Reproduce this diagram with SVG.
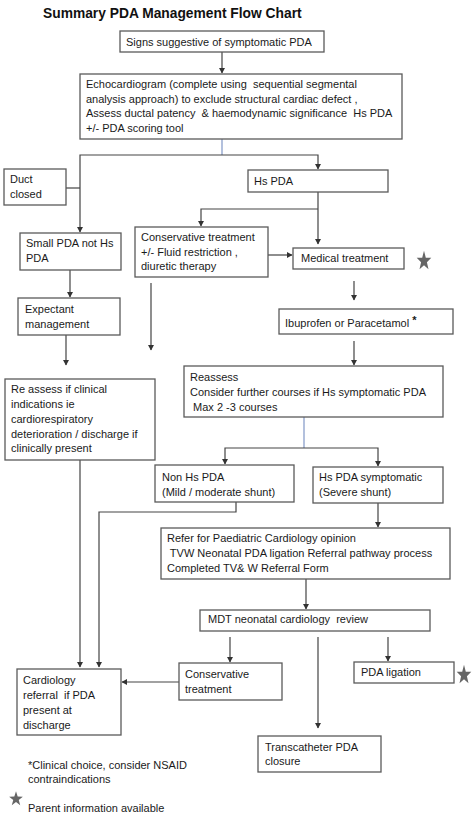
<svg xmlns="http://www.w3.org/2000/svg" width="474" height="818" viewBox="0 0 474 818">
<defs>
<style>
text{font-family:"Liberation Sans",Arial,sans-serif;font-size:11px;fill:#1a1a1a;white-space:pre}
.title{font-weight:bold;font-size:13.8px;fill:#111}
.box{fill:#fff;stroke:#5a5a5a;stroke-width:1.3}
.ln{fill:none;stroke:#444;stroke-width:1.2}
.ar{marker-end:url(#ah)}
.blue{fill:none;stroke:#93a6cf;stroke-width:1.4}
.star{fill:#666}
</style>
<marker id="ah" markerWidth="6" markerHeight="6" refX="5" refY="3" orient="auto" markerUnits="userSpaceOnUse">
<path d="M0,0 L5.5,3 L0,6 Z" fill="#333"/>
</marker>
<path id="star" d="M0,-9 L2.1,-2.9 L8.56,-2.78 L3.42,1.11 L5.29,7.28 L0,3.6 L-5.29,7.28 L-3.42,1.11 L-8.56,-2.78 L-2.1,-2.9 Z"/>
</defs>
<rect width="474" height="818" fill="#fff"/>
<text class="title" x="43" y="18">Summary PDA Management Flow Chart</text>

<g id="connectors">
<path class="ln ar" d="M222,52 V73"/>
<path class="blue" d="M222,139 V155"/>
<path class="ln ar" d="M222,155 H318 V169"/>
<path class="ln ar" d="M222,155 H80 V232"/>
<path class="ln" d="M66,188 H80"/>
<path class="ln ar" d="M318,192 V244"/>
<path class="ln ar" d="M318,209 H201 V226"/>
<path class="ln ar" d="M268,255 H292"/>
<path class="ln ar" d="M70,270 V297"/>
<path class="ln ar" d="M151,283 V350"/>
<path class="ln ar" d="M354,281 V300"/>
<path class="ln ar" d="M354,341 V365"/>
<path class="ln ar" d="M66,335 V365"/>
<path class="blue" d="M304,417 V448"/>
<path class="ln ar" d="M304,448 H225 V464"/>
<path class="ln ar" d="M304,448 H378 V466"/>
<path class="ln ar" d="M236,502 V512 H99 V667"/>
<path class="ln ar" d="M80,460 V667"/>
<path class="ln ar" d="M378,503 V527"/>
<path class="ln ar" d="M306,579 V609"/>
<path class="ln ar" d="M230,637 V662"/>
<path class="ln ar" d="M318,637 V728"/>
<path class="ln ar" d="M388,637 V661"/>
<path class="ln ar" d="M179,682 H122"/>
</g>

<g id="n-signs"><rect class="box" x="120" y="31" width="204" height="21"/><text x="126" y="46">Signs suggestive of symptomatic PDA</text></g>
<g id="n-echo"><rect class="box" x="80" y="74" width="322" height="65"/>
<text x="86" y="87.5">Echocardiogram (complete using  sequential segmental</text>
<text x="86" y="102.5">analysis approach) to exclude structural cardiac defect ,</text>
<text x="86" y="117">Assess ductal patency  &amp; haemodynamic significance  Hs PDA</text>
<text x="86" y="132">+/- PDA scoring tool</text></g>
<g id="n-duct"><rect class="box" x="4" y="169" width="62" height="36"/><text x="10" y="183">Duct</text><text x="10" y="198">closed</text></g>
<g id="n-hspda"><rect class="box" x="248" y="170" width="140" height="22"/><text x="254" y="185">Hs PDA</text></g>
<g id="n-cons1"><rect class="box" x="135" y="227" width="133" height="50"/>
<text x="141" y="241">Conservative treatment</text><text x="141" y="255.5">+/- Fluid restriction ,</text><text x="141" y="270">diuretic therapy</text></g>
<g id="n-medical"><rect class="box" x="293" y="248" width="111" height="21"/><text x="301" y="262">Medical treatment</text>
<use href="#star" class="star" transform="translate(424,261) scale(0.85,1.15)"/></g>
<g id="n-small"><rect class="box" x="20" y="233" width="101" height="37"/><text x="26" y="247">Small PDA not Hs</text><text x="26" y="262">PDA</text></g>
<g id="n-expect"><rect class="box" x="18" y="298" width="102" height="37"/><text x="25" y="313">Expectant</text><text x="25" y="328">management</text></g>
<g id="n-ibu"><rect class="box" x="279" y="309" width="174" height="25"/><text x="285" y="327">Ibuprofen or Paracetamol <tspan font-weight="bold" dy="-3">*</tspan></text></g>
<g id="n-reassess"><rect class="box" x="184" y="366" width="259" height="51"/>
<text x="190" y="381">Reassess</text><text x="190" y="396">Consider further courses if Hs symptomatic PDA</text><text x="190" y="411"> Max 2 -3 courses</text></g>
<g id="n-reassess2"><rect class="box" x="5" y="379" width="150" height="81"/>
<text x="11" y="393">Re assess if clinical</text><text x="11" y="408">indications ie</text><text x="11" y="423">cardiorespiratory</text><text x="11" y="438">deterioration / discharge if</text><text x="11" y="452">clinically present</text></g>
<g id="n-nonhs"><rect class="box" x="155" y="465" width="139" height="37"/><text x="162" y="481">Non Hs PDA</text><text x="162" y="495.5">(Mild / moderate shunt)</text></g>
<g id="n-hssym"><rect class="box" x="313" y="467" width="130" height="36"/><text x="319" y="481">Hs PDA symptomatic</text><text x="319" y="496">(Severe shunt)</text></g>
<g id="n-refer"><rect class="box" x="161" y="528" width="289" height="51"/>
<text x="167" y="542">Refer for Paediatric Cardiology opinion</text><text x="167" y="557"> TVW Neonatal PDA ligation Referral pathway process</text><text x="167" y="571.5">Completed TV&amp; W Referral Form</text></g>
<g id="n-mdt"><rect class="box" x="200" y="610" width="230" height="21"/><text x="208" y="623">MDT neonatal cardiology  review</text></g>
<g id="n-cons2"><rect class="box" x="179" y="663" width="103" height="37"/><text x="185" y="678">Conservative</text><text x="185" y="693">treatment</text></g>
<g id="n-cardio"><rect class="box" x="17" y="669" width="104" height="66"/>
<text x="23" y="684">Cardiology</text><text x="23" y="699">referral  if PDA</text><text x="23" y="714">present at</text><text x="23" y="728.5">discharge</text></g>
<g id="n-ligation"><rect class="box" x="354" y="662" width="100" height="21"/><text x="361" y="676">PDA ligation</text>
<use href="#star" class="star" transform="translate(464,675) scale(0.85,1.15)"/></g>
<g id="n-trans"><rect class="box" x="258" y="736" width="123" height="36"/><text x="265" y="751">Transcatheter PDA</text><text x="265" y="765">closure</text></g>
<g id="notes">
<text x="28" y="769">*Clinical choice, consider NSAID</text><text x="28" y="783">contraindications</text>
<use href="#star" class="star" transform="translate(16,799) scale(0.8,0.85)"/>
<text x="28" y="812">Parent information available</text></g>
</svg>
